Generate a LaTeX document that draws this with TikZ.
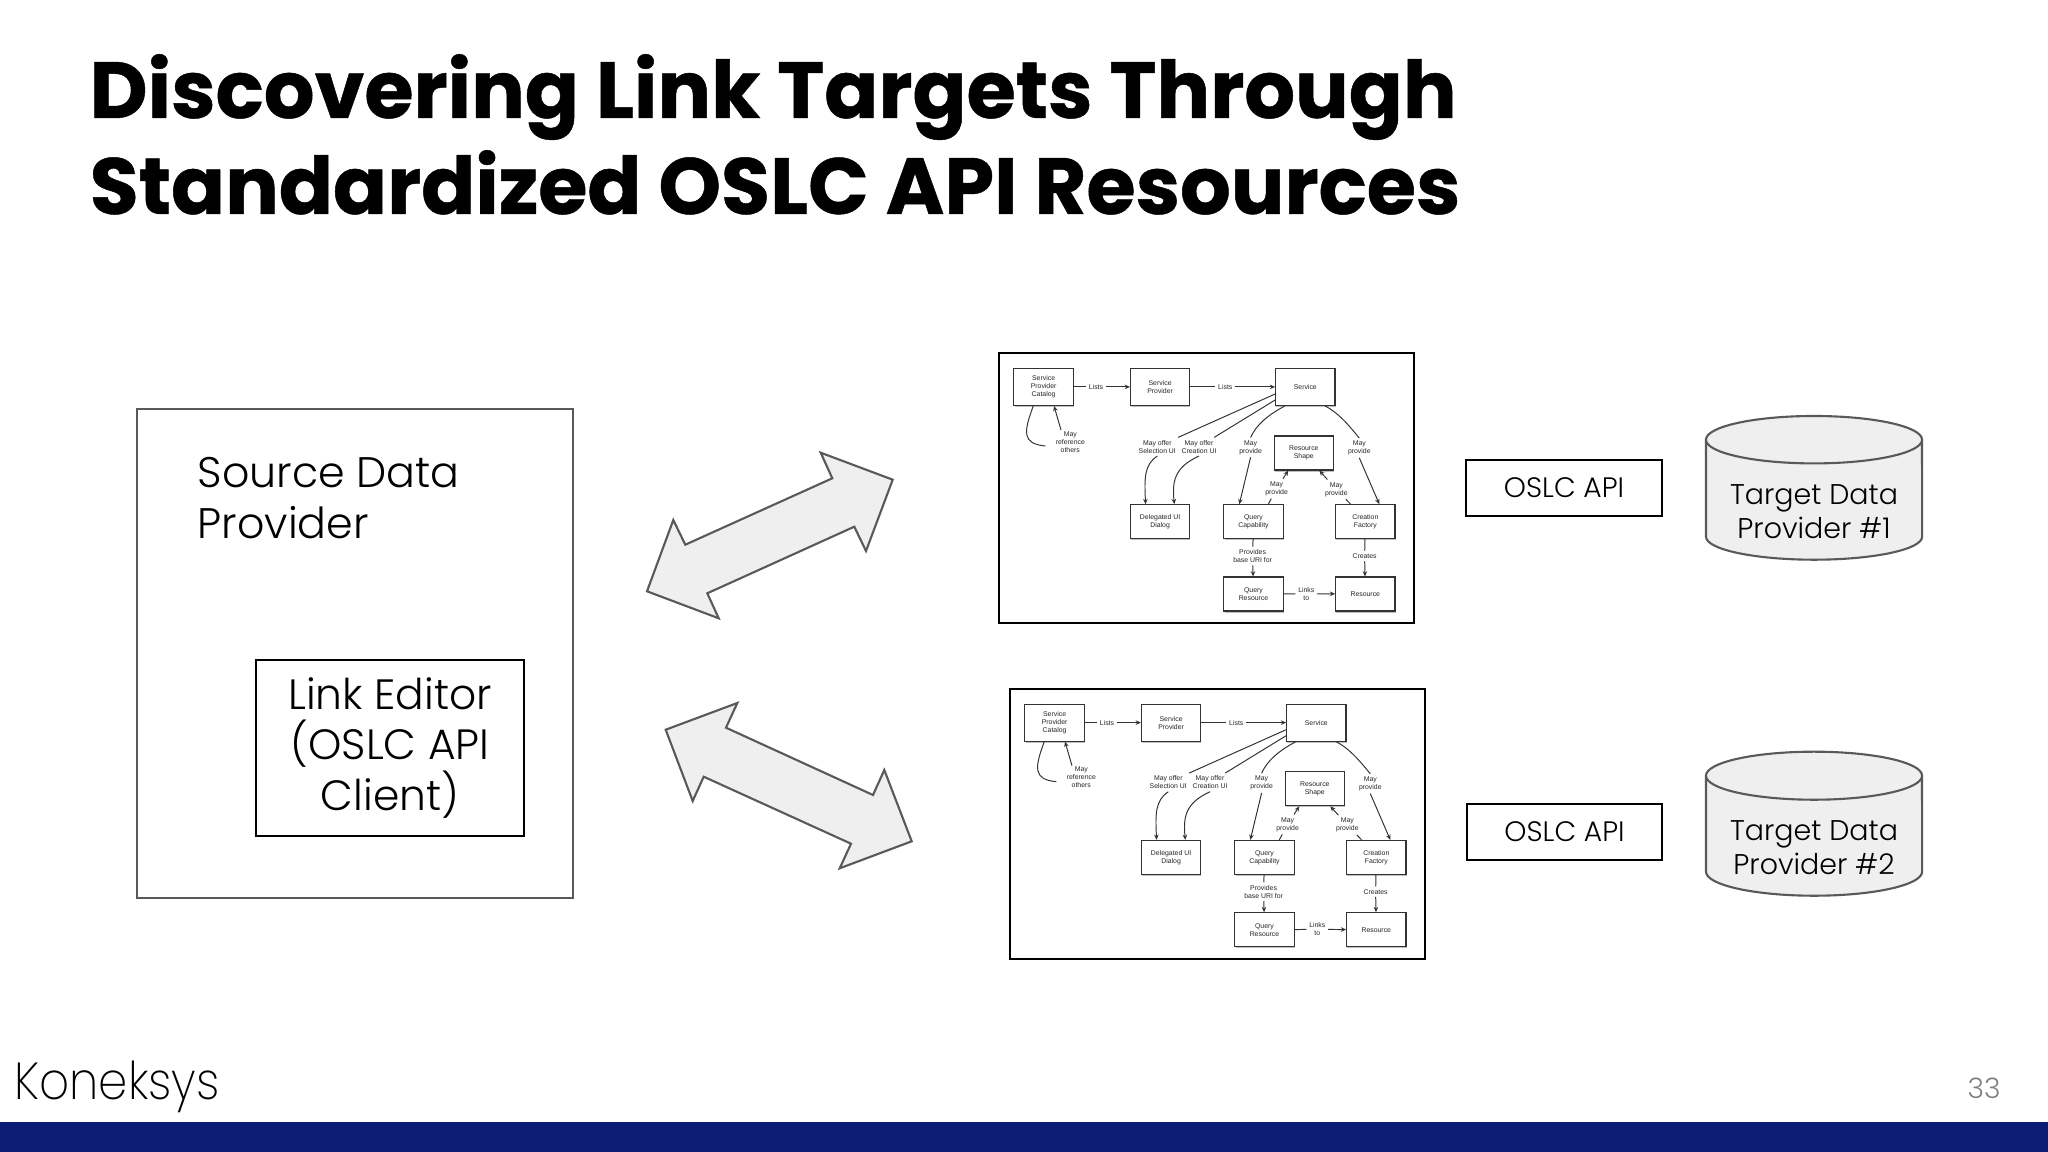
\documentclass[tikz,border=0pt]{standalone}
\usepackage{fontspec}
\usetikzlibrary{arrows.meta,shadows}
\setmainfont{Poppins}[UprightFont=* Light,BoldFont=* Bold,BoldFeatures={FakeBold=0.6}]
\newfontfamily\modelfont{Liberation Sans}
\newfontfamily\brandfont{Poppins ExtraLight}[FakeStretch=0.9]
\definecolor{footerblue}{HTML}{0C1C74}
\definecolor{shapefill}{HTML}{EFEFEF}
\definecolor{shapeline}{HTML}{595959}
\definecolor{modelline}{HTML}{333333}
\tikzset{
    modelbox/.style={draw=modelline, fill=white, line width=0.3pt, align=center, minimum width=0.593cm, inner sep=0pt,
        drop shadow={shadow xshift=0.2pt, shadow yshift=-0.5pt, opacity=0.5}},
    tallbox/.style={modelbox, minimum height=0.37cm},
    lowbox/.style={modelbox, minimum height=0.34cm},
    modellabel/.style={align=center, inner sep=0.6pt},
    modeledge/.style={draw=modelline, line width=0.28pt, >={Stealth[length=1.5pt, width=1.3pt]}},
    bigarrow/.style={fill=shapefill, draw=shapeline, line width=0.6pt, line join=miter},
    plainbox/.style={draw=black, line width=0.55pt, fill=white, align=center},
    blackframe/.style={draw=black, line width=0.6pt},
    oslcmodel/.pic={
        \draw[blackframe] (1,0.3) rectangle (415.7,270.6);
        \begin{scope}[font=\modelfont\fontsize{1.96}{2.28}\selectfont, text=black!85]
            \node[tallbox] (catalog) at (45.3,34.2) {Service\\Provider\\Catalog};
            \node[tallbox] (provider) at (161.8,34.2) {Service\\Provider};
            \node[tallbox] (service) at (307,34.2) {Service};
            \node[lowbox] (shape) at (305.5,100.3) {Resource\\Shape};
            \node[lowbox] (dialog) at (161.8,169) {Delegated UI\\Dialog};
            \node[lowbox] (capability) at (255.2,169) {Query\\Capability};
            \node[lowbox] (factory) at (367,169) {Creation\\Factory};
            \node[lowbox] (queryres) at (255.2,241.3) {Query\\Resource};
            \node[lowbox] (resource) at (367,241.3) {Resource};

            \node[modellabel] (lists1) at (97.7,34.2) {Lists};
            \node[modellabel] (lists2) at (227,34.2) {Lists};
            \node[modellabel] (others) at (72,89) {May\\reference\\others};
            \node[modellabel] (selection) at (159,94) {May offer\\Selection UI};
            \node[modellabel] (creation) at (200.7,94) {May offer\\Creation UI};
            \node[modellabel] (leftprov) at (252.3,94.7) {May\\provide};
            \node[modellabel] (rightprov) at (361,95.3) {May\\provide};
            \node[modellabel] (capprov) at (278.3,136) {May\\provide};
            \node[modellabel] (facprov) at (338,136.7) {May\\provide};
            \node[modellabel] (baseuri) at (254.3,203.3) {Provides\\base URI for};
            \node[modellabel] (creates) at (366.3,203.3) {Creates};
            \node[modellabel] (links) at (308,241) {Links\\to};
        \end{scope}

        \coordinate (loopend) at (47,93.3);
        \coordinate (loopback) at (62.7,77.3);

        \draw[modeledge] (catalog) -- (lists1);
        \draw[modeledge, ->] (lists1) -- (provider);
        \draw[modeledge] (provider) -- (lists2);
        \draw[modeledge, ->] (lists2) -- (service);
        \draw[modeledge] ([xshift=-.103cm]catalog.south) .. controls (25,80) and (24,91) .. (loopend);
        \draw[modeledge, ->] (loopback) -- ([xshift=.104cm]catalog.south);
        \draw[modeledge] ([yshift=-.071cm]service.west) -- (selection);
        \draw[modeledge] ([yshift=-.131cm]service.west) -- (creation);
        \draw[modeledge, ->] (selection.south) .. controls (146,112) and (146,125) .. ([xshift=-.145cm]dialog.north);
        \draw[modeledge, ->] (creation.south) .. controls (175,115) and (174,130) .. ([xshift=.142cm]dialog.north);
        \draw[modeledge] ([xshift=-.203cm]service.south) .. controls (270,62) and (258,72) .. (leftprov.north);
        \draw[modeledge, ->] (leftprov.south) -- ([xshift=-.142cm]capability.north);
        \draw[modeledge] ([xshift=.197cm]service.south) .. controls (340,60) and (350,72) .. (rightprov.north);
        \draw[modeledge, ->] (rightprov.south) -- ([xshift=.14cm]factory.north);
        \draw[modeledge] ([xshift=.148cm]capability.north) -- (capprov);
        \draw[modeledge, ->] (capprov) -- ([xshift=-.155cm]shape.south);
        \draw[modeledge] ([xshift=-.147cm]factory.north) -- (facprov);
        \draw[modeledge, ->] (facprov) -- ([xshift=.155cm]shape.south);
        \draw[modeledge] (capability) -- (baseuri);
        \draw[modeledge, ->] (baseuri) -- (queryres);
        \draw[modeledge] (factory) -- (creates);
        \draw[modeledge, ->] (creates) -- (resource);
        \draw[modeledge] (queryres) -- (links);
        \draw[modeledge, ->] (links) -- (resource);
    }
}
\begin{document}
\begin{tikzpicture}[x=0.01cm, y=-0.01cm]
    \useasboundingbox (0,0) rectangle (2048,1152);
    \fill[footerblue] (0,1121.7) rectangle (2048,1152);

    \node[anchor=base west, inner sep=0pt, font=\bfseries\fontsize{22.66}{24}\selectfont] (title1) at (89,118) {Discovering Link Targets Through};
    \node[anchor=base west, inner sep=0pt, font=\bfseries\fontsize{22.66}{24}\selectfont] (title2) at (89,214) {Standardized OSLC API Resources};

    %source side
    \draw[line width=0.6pt, draw=shapeline] (137,409) rectangle (573,898);
    \node[anchor=base west, inner sep=0pt, font=\fontsize{12.15}{14.4}\selectfont, align=left] (source) at (197,538) {Source Data\\Provider};
    \node[plainbox, minimum width=2.68cm, minimum height=1.76cm, font=\fontsize{12.05}{14.7}\selectfont] (editor) at (390,748) {\raisebox{-1pt}{Link Editor}\\\raisebox{-.5pt}{(OSLC API}\\\raisebox{-.5pt}{Client)}};

    %double arrows
    \draw[bigarrow] (820.7,452.7) -- (892.7,479.7) -- (866,551) -- (854.3,526.7) -- (707.3,593.3) -- (718.7,618.3) -- (647,591.3) -- (673.3,520) -- (685.3,544.7) -- (832.3,478.3) -- cycle;
    \draw[bigarrow] (737.3,703) -- (665.7,729.7) -- (692.7,801) -- (703.7,776.7) -- (851,843.7) -- (839.7,868.3) -- (911.7,841.3) -- (884.3,770) -- (873,795) -- (726,727.7) -- cycle;

    %resource models
    \pic (top) at (998.3,352.7) {oslcmodel};
    \pic (bottom) at (1009.3,688.4) {oslcmodel};

    %api boxes
    \node[plainbox, minimum width=1.963cm, minimum height=.557cm, font=\fontsize{8}{10}\selectfont] (api1) at (1564,487.8) {OSLC API};
    \node[plainbox, minimum width=1.956cm, minimum height=.557cm, font=\fontsize{8}{10}\selectfont] (api2) at (1564.5,832.1) {OSLC API};

    %target stores
    \draw[bigarrow] (1706,439.7) -- (1706,536.7) arc[start angle=180, end angle=360, x radius=1.08cm, y radius=.23cm] -- (1922,439.7);
    \draw[bigarrow] (1814,439.7) ellipse [x radius=1.08cm, y radius=.237cm];
    \draw[bigarrow] (1706,775.7) -- (1706,871.7) arc[start angle=180, end angle=360, x radius=1.08cm, y radius=.24cm] -- (1922,775.7);
    \draw[bigarrow] (1814,775.7) ellipse [x radius=1.08cm, y radius=.24cm];
    \node[align=center, inner sep=0pt, font=\fontsize{8.1}{9.7}\selectfont] (store1) at (1814,512) {Target Data\\Provider \#1};
    \node[align=center, inner sep=0pt, font=\fontsize{8.1}{9.7}\selectfont] (store2) at (1814,848) {Target Data\\Provider \#2};

    %footer
    \node[anchor=base west, inner sep=0pt, font=\brandfont\fontsize{14.8}{15}\selectfont] (brand) at (14,1099) {Koneksys};
    \node[inner sep=0pt, text=gray, font=\fontsize{8}{8}\selectfont] (pagenum) at (1984,1088) {33};
\end{tikzpicture}
\end{document}
